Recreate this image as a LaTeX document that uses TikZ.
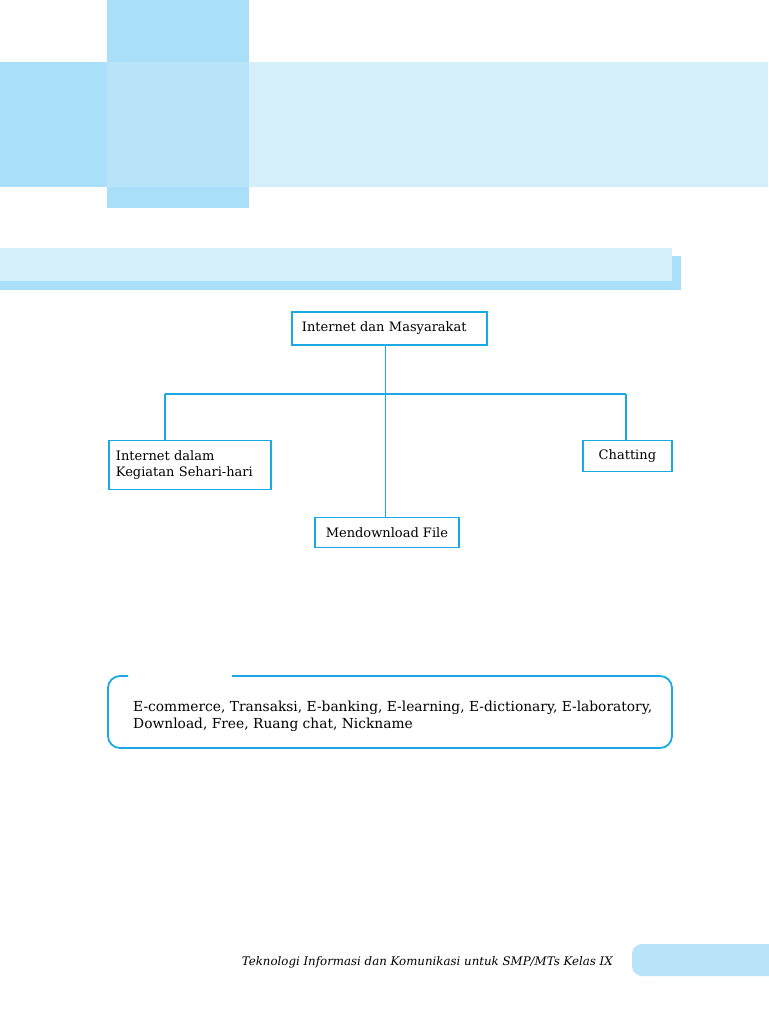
\documentclass[tikz,border=0pt]{standalone}
\usepackage{fontspec}
\setmainfont{DejaVu Serif}
\definecolor{bandA}{HTML}{A9DFF9}
\definecolor{bandB}{HTML}{B8E4F9}
\definecolor{bandC}{HTML}{D4EEFA}
\definecolor{lineC}{HTML}{1BA9E6}
\begin{document}
\begin{tikzpicture}[x=1pt,y=-1pt,
  box/.style={draw=lineC,line width=1.8pt,inner xsep=8pt,inner ysep=0pt,font=\fontsize{13}{16.5}\selectfont,anchor=north west},
  conn/.style={draw=lineC,line width=1.8pt}]
\useasboundingbox (0,0) rectangle (768,1024);
\fill[white] (0,0) rectangle (768,1024);
% header blocks
\fill[bandC] (249,62) rectangle (768,187);
\fill[bandA] (0,62) rectangle (107,187);
\fill[bandA] (107,0) rectangle (249,208);
\fill[bandB] (107,62) rectangle (249,187);
% title bar
\fill[bandA] (0,256) rectangle (681,290);
\fill[bandC] (0,248) rectangle (672,281);
% nodes
\node[box,inner xsep=10pt,text width=175pt,align=left,minimum height=33pt] (root) at (291,311) {Internet dan Masyarakat};
\node[box,inner xsep=7pt,text width=148pt,align=left,minimum height=49pt] (left) at (108,439.5) {Internet dalam\\Kegiatan Sehari-hari};
\node[box,minimum width=89pt,minimum height=31pt,align=center] (chat) at (582,439.5) {Chatting};
\node[box,minimum width=144pt,minimum height=30pt,align=center] (down) at (314,516.5) {Mendownload File};
\coordinate (hub) at (385.5,394);
\coordinate (hl) at (165,394);
\coordinate (hr) at (626,394);
\draw[draw=lineC,line width=1.4pt] (hub |- root.south) -- (hub |- down.north);
\draw[conn] (hl) -- (hr);
\draw[conn] (hl) -- (hl |- left.north);
\draw[conn] (hr) -- (hr |- chat.north);
% keyword box
\draw[draw=lineC,line width=1.8pt,rounded corners=12pt] (232,676) -- (672,676) -- (672,748) -- (108,748) -- (108,676) -- (128,676);
\node[font=\fontsize{13.8}{16.5}\selectfont,align=left,anchor=base west,inner sep=0pt] (kw) at (133,728) {E-commerce, Transaksi, E-banking, E-learning, E-dictionary, E-laboratory,\\Download, Free, Ruang chat, Nickname};
% footer
\fill[bandB,rounded corners=10pt] (632,944) rectangle (790,976);
\node[font=\itshape\fontsize{11.8}{13}\selectfont,anchor=base east,inner sep=0pt] (foot) at (613,965) {Teknologi Informasi dan Komunikasi untuk SMP/MTs Kelas IX};
\end{tikzpicture}
\end{document}
